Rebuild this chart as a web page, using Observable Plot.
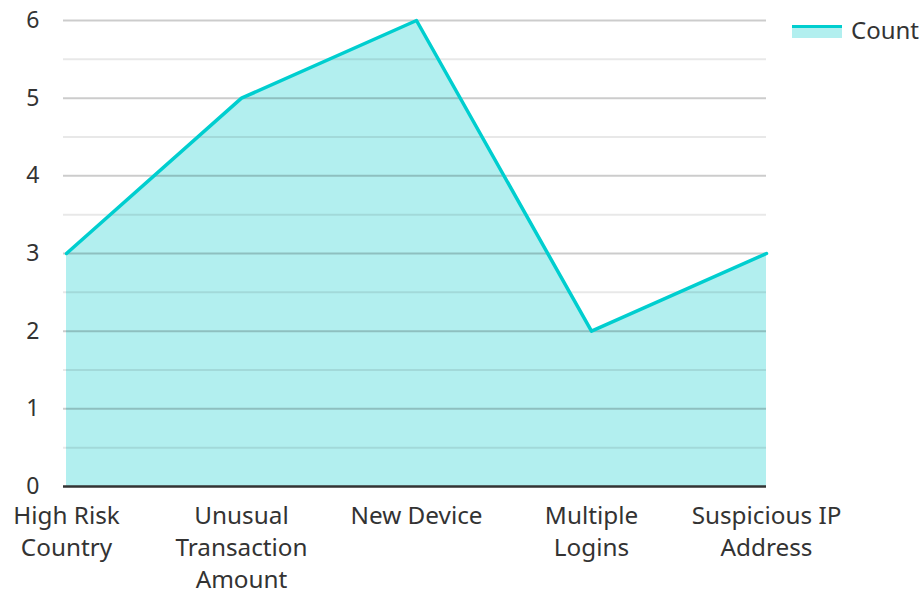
<!DOCTYPE html>
<html>
<head>
<meta charset="utf-8">
<script src="https://cdn.jsdelivr.net/npm/d3@7"></script>
<script src="https://cdn.jsdelivr.net/npm/@observablehq/plot@0.6"></script>
<style>
  html, body { margin: 0; padding: 0; background: #fff; }
  #wrap { position: relative; width: 924px; height: 589px; font-family: "Noto Sans", sans-serif; }
  #legend { position: absolute; left: 792px; top: 13px; display: flex; align-items: center; font-size: 24px; color: #333; }
  #legend .sw { width: 50px; height: 13px; background: #b2efef; border-top: 3px solid #00cecf; box-sizing: border-box; margin-right: 9px; margin-top: 4px; }
</style>
</head>
<body>
<div id="wrap"><div id="legend"><div class="sw"></div><span>Count</span></div></div>
<script>
const categories = ["High Risk Country", "Unusual Transaction Amount", "New Device", "Multiple Logins", "Suspicious IP Address"];
const tickLabels = ["High Risk\nCountry", "Unusual\nTransaction\nAmount", "New Device", "Multiple\nLogins", "Suspicious IP\nAddress"];
const counts = [3, 5, 6, 2, 3];
const yTicks = [0, 1, 2, 3, 4, 5, 6];
const minorTicks = [0.5, 1.5, 2.5, 3.5, 4.5, 5.5];

const data = categories.map((c, i) => ({category: c, count: counts[i]}));
const labelOf = new Map(categories.map((c, i) => [c, tickLabels[i]]));

const chart = Plot.plot({
  width: 924,
  height: 589,
  marginLeft: 65,
  marginRight: 158,
  marginTop: 20,
  marginBottom: 103,
  style: {fontFamily: "Noto Sans, sans-serif", fontSize: "24px", color: "#333", background: "transparent"},
  x: {type: "point", domain: categories, padding: 0, label: null},
  y: {domain: [0, 6], label: null},
  marks: [
    Plot.areaY(data, {x: "category", y: "count", fill: "#b2efef", fillOpacity: 1}),
    Plot.ruleY(minorTicks, {stroke: "#000", strokeOpacity: 0.09, strokeWidth: 2, insetLeft: -2}),
    Plot.ruleY(yTicks.filter(d => d > 0), {stroke: "#000", strokeOpacity: 0.2, strokeWidth: 2, insetLeft: -2}),
    Plot.lineY(data, {x: "category", y: "count", stroke: "#00cecf", strokeWidth: 3.5}),
    Plot.ruleY([0], {stroke: "#333", strokeWidth: 2.5, insetLeft: -2}),
    Plot.axisY({ticks: yTicks, tickSize: 0, tickPadding: 26, tickFormat: d => String(d), fontSize: 23, fill: "#333"}),
    Plot.axisX({tickSize: 0, tickPadding: 15, tickFormat: d => labelOf.get(d), lineHeight: 1.32, fontSize: 24.3, fill: "#333", textAnchor: "middle"})
  ]
});
document.getElementById("wrap").prepend(chart);
chart.style.position = "absolute";
chart.style.left = "0";
chart.style.top = "0";
</script>
</body>
</html>
